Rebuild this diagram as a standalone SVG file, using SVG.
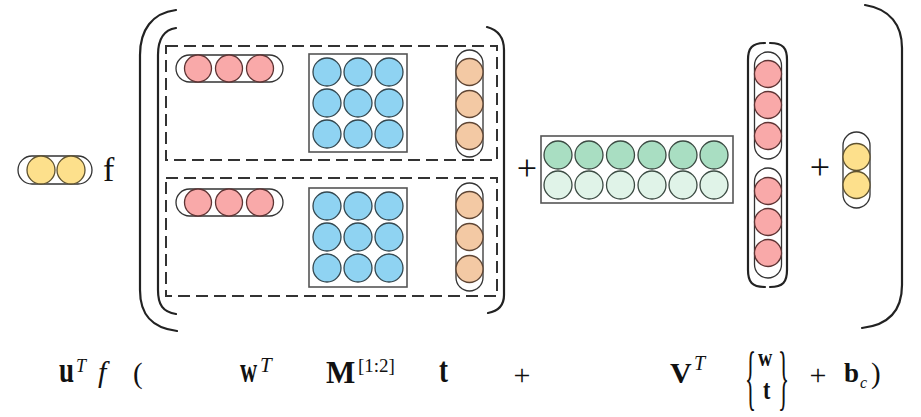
<svg xmlns="http://www.w3.org/2000/svg" width="921" height="417" viewBox="0 0 921 417">
<defs>
<style>
.paren{fill:none;stroke:#222;stroke-width:2.2;stroke-linecap:round}
.dash{fill:none;stroke:#333;stroke-width:2;stroke-dasharray:12 6}
.cap{fill:#fff;stroke:#333;stroke-width:1.3}
.box{fill:#fff;stroke:#555;stroke-width:1.6}
.pink{fill:#f9a9a9;stroke:#5e3434;stroke-width:1.3}
.blue{fill:#8fd3f2;stroke:#34474f;stroke-width:1.3}
.orange{fill:#f3c9a4;stroke:#5e4534;stroke-width:1.3}
.yellow{fill:#fde08c;stroke:#5e5230;stroke-width:1.3}
.green1{fill:#a9dec2;stroke:#3b4a42;stroke-width:1.3}
.green2{fill:#e0f3e8;stroke:#3b4a42;stroke-width:1.3}
.t{font-family:"Liberation Serif","Times New Roman",serif;fill:#111}
.b{font-weight:bold}
.i{font-style:italic}
</style>
</defs>
<rect width="921" height="417" fill="#fff"/>

<g id="parens">
<path class="paren" d="M176 10 C152 13 140 30 140 55 L140 290 C140 315 152 328 177 331"/>
<path class="paren" d="M176 28 C163 30 158 40 158 55 L158 290 C158 305 163 312 176 314"/>
<path class="paren" d="M487 27 C498 30 504 37 504 50 L504 295 C504 305 499 311 488 313"/>
<path class="paren" d="M865 5 C890 9 902 25 902 48 L902 285 C902 310 889 325 862 328"/>
</g>

<g id="u-vector">
<rect class="cap" x="18" y="156" width="74" height="28" rx="14"/>
<circle class="yellow" cx="41" cy="170" r="14"/>
<circle class="yellow" cx="71" cy="170" r="14"/>
<text class="t" x="103" y="181" font-size="34">f</text>
</g>

<g id="slice1">
<rect class="dash" x="166" y="46" width="331" height="114"/>
<g id="w1">
<rect class="cap" x="176" y="55" width="107" height="27" rx="13.5"/>
<circle class="pink" cx="198" cy="68.5" r="13.5"/>
<circle class="pink" cx="229" cy="68.5" r="13.5"/>
<circle class="pink" cx="260" cy="68.5" r="13.5"/>
</g>
<g id="M1">
<rect class="box" x="309" y="54" width="98" height="98"/>
<circle class="blue" cx="327" cy="72" r="14"/><circle class="blue" cx="358" cy="72" r="14"/><circle class="blue" cx="389" cy="72" r="14"/>
<circle class="blue" cx="327" cy="103" r="14"/><circle class="blue" cx="358" cy="103" r="14"/><circle class="blue" cx="389" cy="103" r="14"/>
<circle class="blue" cx="327" cy="134" r="14"/><circle class="blue" cx="358" cy="134" r="14"/><circle class="blue" cx="389" cy="134" r="14"/>
</g>
<g id="t1">
<rect class="cap" x="456" y="50" width="27" height="107" rx="13.5"/>
<circle class="orange" cx="469.5" cy="72" r="13.5"/>
<circle class="orange" cx="469.5" cy="104" r="13.5"/>
<circle class="orange" cx="469.5" cy="136" r="13.5"/>
</g>
</g>

<g id="slice2">
<rect class="dash" x="166" y="178" width="331" height="118"/>
<g id="w2">
<rect class="cap" x="176" y="189" width="107" height="27" rx="13.5"/>
<circle class="pink" cx="198" cy="202.5" r="13.5"/>
<circle class="pink" cx="229" cy="202.5" r="13.5"/>
<circle class="pink" cx="260" cy="202.5" r="13.5"/>
</g>
<g id="M2">
<rect class="box" x="309" y="188" width="98" height="99"/>
<circle class="blue" cx="327" cy="206" r="14"/><circle class="blue" cx="358" cy="206" r="14"/><circle class="blue" cx="389" cy="206" r="14"/>
<circle class="blue" cx="327" cy="237" r="14"/><circle class="blue" cx="358" cy="237" r="14"/><circle class="blue" cx="389" cy="237" r="14"/>
<circle class="blue" cx="327" cy="268" r="14"/><circle class="blue" cx="358" cy="268" r="14"/><circle class="blue" cx="389" cy="268" r="14"/>
</g>
<g id="t2">
<rect class="cap" x="456" y="183" width="27" height="108" rx="13.5"/>
<circle class="orange" cx="469.5" cy="205" r="13.5"/>
<circle class="orange" cx="469.5" cy="237" r="13.5"/>
<circle class="orange" cx="469.5" cy="269" r="13.5"/>
</g>
</g>

<g id="plus1"><text class="t" x="527" y="180" font-size="36" text-anchor="middle">+</text></g>

<g id="V-matrix">
<rect class="box" x="541" y="136" width="192" height="67"/>
<circle class="green1" cx="558" cy="155" r="14"/><circle class="green1" cx="589" cy="155" r="14"/><circle class="green1" cx="620.5" cy="155" r="14"/><circle class="green1" cx="652" cy="155" r="14"/><circle class="green1" cx="683" cy="155" r="14"/><circle class="green1" cx="714" cy="155" r="14"/>
<circle class="green2" cx="558" cy="185" r="14"/><circle class="green2" cx="589" cy="185" r="14"/><circle class="green2" cx="620.5" cy="185" r="14"/><circle class="green2" cx="652" cy="185" r="14"/><circle class="green2" cx="683" cy="185" r="14"/><circle class="green2" cx="714" cy="185" r="14"/>
</g>

<g id="wt-concat">
<path class="paren" d="M765 43 C752 43 748 48 748 60 L748 270 C748 282 752 287 765 287" stroke-width="1.8"/>
<path class="paren" d="M770 43 C783 43 787 48 787 60 L787 270 C787 282 783 287 770 287" stroke-width="1.8"/>
<rect class="cap" x="754.5" y="52" width="27" height="107" rx="13.5"/>
<circle class="pink" cx="768" cy="74" r="13.5"/>
<circle class="pink" cx="768" cy="105" r="13.5"/>
<circle class="pink" cx="768" cy="136" r="13.5"/>
<rect class="cap" x="754.5" y="168" width="27" height="110" rx="13.5"/>
<circle class="pink" cx="768" cy="191" r="13.5"/>
<circle class="pink" cx="768" cy="222" r="13.5"/>
<circle class="pink" cx="768" cy="253" r="13.5"/>
</g>

<g id="plus2"><text class="t" x="820" y="179" font-size="36" text-anchor="middle">+</text></g>

<g id="bias">
<rect class="cap" x="843" y="132" width="27" height="76" rx="13.5"/>
<circle class="yellow" cx="856.5" cy="157" r="13.5"/>
<circle class="yellow" cx="856.5" cy="185" r="13.5"/>
</g>

<g id="formula">
<text class="t b" font-size="27" transform="translate(59 382) scale(1 1.3)">u</text>
<text class="t i" x="76" y="372" font-size="18">T</text>
<text class="t i" x="98" y="382" font-size="30">f</text>
<text class="t" x="133" y="383" font-size="29">(</text>
<text class="t b" font-size="27" transform="translate(240 382) scale(0.88 1.3)">w</text>
<text class="t i" x="260" y="372" font-size="21">T</text>
<text class="t b" x="326" y="383" font-size="31">M</text>
<text class="t" x="358" y="372" font-size="19">[1:2]</text>
<text class="t b" font-size="27" transform="translate(439 382) scale(1 1.3)">t</text>
<text class="t" x="522" y="385" font-size="30" text-anchor="middle">+</text>
<text class="t b" x="670" y="383" font-size="30">V</text>
<text class="t i" x="694" y="370" font-size="20">T</text>
<text class="t" font-size="72" transform="translate(745 401) scale(0.32 1)">{</text>
<text class="t b" font-size="22" transform="translate(758 366) scale(0.9 1.15)">w</text>
<text class="t b" font-size="22" transform="translate(763 399) scale(1 1.2)">t</text>
<text class="t" font-size="72" transform="translate(778 401) scale(0.32 1)">}</text>
<text class="t" x="818" y="385" font-size="30" text-anchor="middle">+</text>
<text class="t b" font-size="27" transform="translate(844 382) scale(1 1.05)">b</text>
<text class="t i" x="860" y="388" font-size="16">c</text>
<text class="t" x="871" y="383" font-size="29">)</text>
</g>
</svg>
